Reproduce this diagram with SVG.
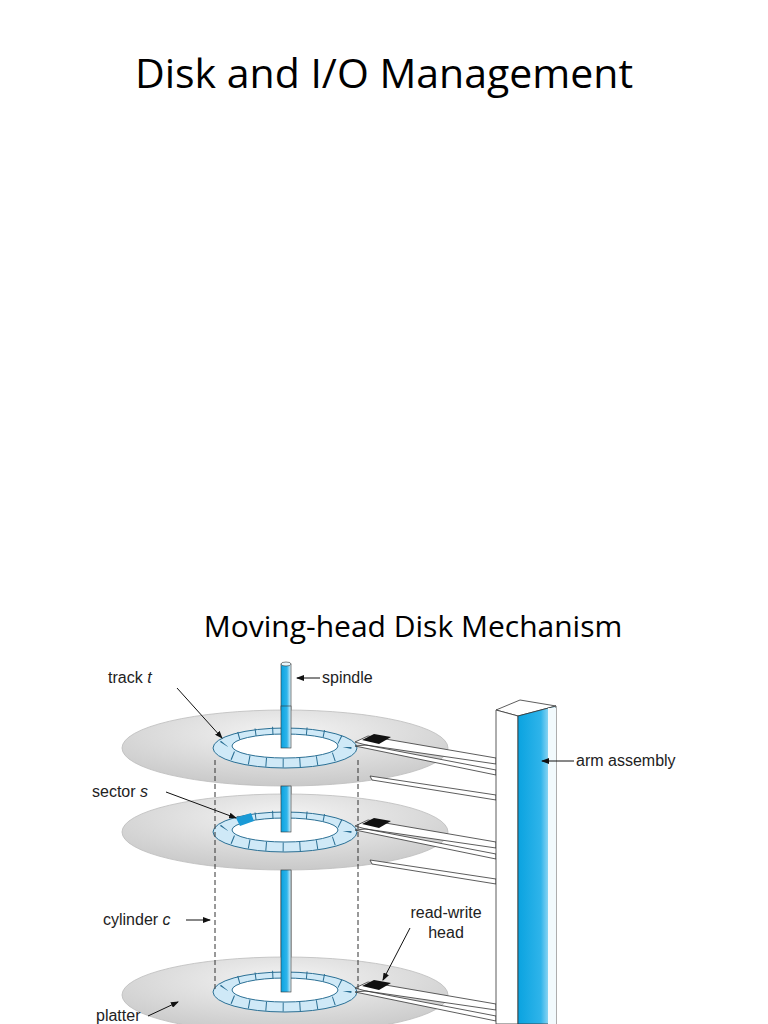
<svg xmlns="http://www.w3.org/2000/svg" width="768" height="1024" viewBox="0 0 768 1024">
<defs>
<radialGradient id="plat" cx="0.5" cy="0.3" r="0.7"><stop offset="0" stop-color="#f4f4f4"/><stop offset="1" stop-color="#c9c9c9"/></radialGradient>
<linearGradient id="blue" x1="0" x2="1"><stop offset="0" stop-color="#0aa3e0"/><stop offset="0.6" stop-color="#2fb4ea"/><stop offset="1" stop-color="#e8f6fc"/></linearGradient>
<marker id="ah" markerWidth="8" markerHeight="6" refX="7" refY="3" orient="auto"><path d="M0,0 L8,3 L0,6 Z" fill="#111"/></marker>
</defs>
<style>
.t{font-family:"Open Sans","DejaVu Sans",sans-serif;fill:#000}
.l{font-family:"Liberation Sans",Arial,sans-serif;font-size:16px;fill:#222}
.p{fill:url(#plat);stroke:#bbb;stroke-width:0.8}
.ring{fill:#cfe9f7;stroke:#2a6f94;stroke-width:1}
.seg{fill:none;stroke:#2a6f94;stroke-width:9;stroke-dasharray:1 16}
.hole{fill:#fff;stroke:#2a6f94;stroke-width:1}
.sp{fill:url(#blue);stroke:#333;stroke-width:0.6}
.arm{fill:#fff;stroke:#333;stroke-width:0.8}
.lead{stroke:#111;stroke-width:1;fill:none;marker-end:url(#ah)}
.dash{stroke:#333;stroke-width:1;stroke-dasharray:5,3}
</style>
<rect width="768" height="1024" fill="#fff"/>
<text class="t" x="384" y="88" font-size="41" text-anchor="middle">Disk and I/O Management</text>
<text class="t" x="413" y="637" font-size="30" text-anchor="middle">Moving-head Disk Mechanism</text>

<g id="spindle"><rect class="sp" x="281" y="664" width="10" height="360"/><ellipse cx="286" cy="664" rx="5" ry="2" fill="#e8f6fc" stroke="#333" stroke-width="0.6"/></g>

<g id="platter1">
<ellipse class="p" cx="285" cy="748" rx="163" ry="38"/>
<ellipse class="ring" cx="285" cy="748" rx="72" ry="20"/><ellipse class="seg" cx="285" cy="747" rx="62" ry="16"/><ellipse class="hole" cx="285" cy="746" rx="53" ry="12"/>
<rect class="sp" x="281" y="706" width="10" height="42"/>
<path d="M355,742 L368,736 L496,758 L496,764 L366,745 Z M366,745 L496,770 L496,775 L355,746 Z" class="arm"/>
<path d="M362,740 L374,734 L391,737 L379,744 Z" fill="#111"/>
<path d="M370,776 L496,795 L496,800 L372,780 Z" class="arm"/>
</g>
<g id="platter2">
<ellipse class="p" cx="285" cy="832" rx="163" ry="38"/>
<ellipse class="ring" cx="285" cy="832" rx="72" ry="20"/><ellipse class="seg" cx="285" cy="831" rx="62" ry="16"/><ellipse class="hole" cx="285" cy="830" rx="53" ry="12"/>
<path d="M236,818 L251,813 L254,821 L240,826 Z" fill="#1a9ad6"/>
<rect class="sp" x="281" y="786" width="10" height="46"/>
<path d="M355,826 L368,820 L496,842 L496,848 L366,829 Z M366,829 L496,854 L496,859 L355,830 Z" class="arm"/>
<path d="M362,824 L374,818 L391,821 L379,828 Z" fill="#111"/>
<path d="M370,860 L496,879 L496,884 L372,864 Z" class="arm"/>
</g>
<g id="platter3">
<ellipse class="p" cx="285" cy="995" rx="163" ry="38"/>
<ellipse class="ring" cx="285" cy="992" rx="72" ry="20"/><ellipse class="seg" cx="285" cy="991" rx="62" ry="16"/><ellipse class="hole" cx="285" cy="990" rx="53" ry="12"/>
<rect class="sp" x="281" y="870" width="10" height="122"/>
<path d="M355,988 L368,982 L496,1004 L496,1010 L366,991 Z M366,991 L496,1016 L496,1021 L355,992 Z" class="arm"/>
<path d="M362,986 L374,980 L391,983 L379,990 Z" fill="#111"/>
</g>
<g id="cylinder"><line class="dash" x1="215" y1="760" x2="215" y2="990"/><line class="dash" x1="358" y1="760" x2="358" y2="990"/></g>

<g id="arm-assembly">
<path d="M496,710 L520,700 L556,706 L518,716 Z" fill="#fff" stroke="#333" stroke-width="0.8"/>
<path d="M496,710 L518,716 L518,1024 L496,1024 Z" fill="#fff" stroke="#333" stroke-width="0.8"/>
<path d="M518,716 L556,706 L556,1024 L518,1024 Z" fill="url(#blue)" stroke="#333" stroke-width="0.8"/>
<rect x="548" y="708" width="8" height="316" fill="#f2fafd"/>
</g>

<g id="labels">
<text class="l" x="108" y="683">track <tspan font-style="italic">t</tspan></text>
<path class="lead" d="M177,688 L222,738"/>
<text class="l" x="322" y="683">spindle</text>
<path class="lead" d="M320,678 L297,678"/>
<text class="l" x="92" y="797">sector <tspan font-style="italic">s</tspan></text>
<path class="lead" d="M166,792 L236,818"/>
<text class="l" x="576" y="766">arm assembly</text>
<path class="lead" d="M574,761 L542,761"/>
<text class="l" x="103" y="925">cylinder <tspan font-style="italic">c</tspan></text>
<path class="lead" d="M186,920 L210,920"/>
<text class="l" x="446" y="918" text-anchor="middle">read-write</text>
<text class="l" x="446" y="938" text-anchor="middle">head</text>
<path class="lead" d="M410,928 L383,980"/>
<text class="l" x="96" y="1021">platter</text>
<path class="lead" d="M148,1016 L178,1002"/>
</g>
</svg>
